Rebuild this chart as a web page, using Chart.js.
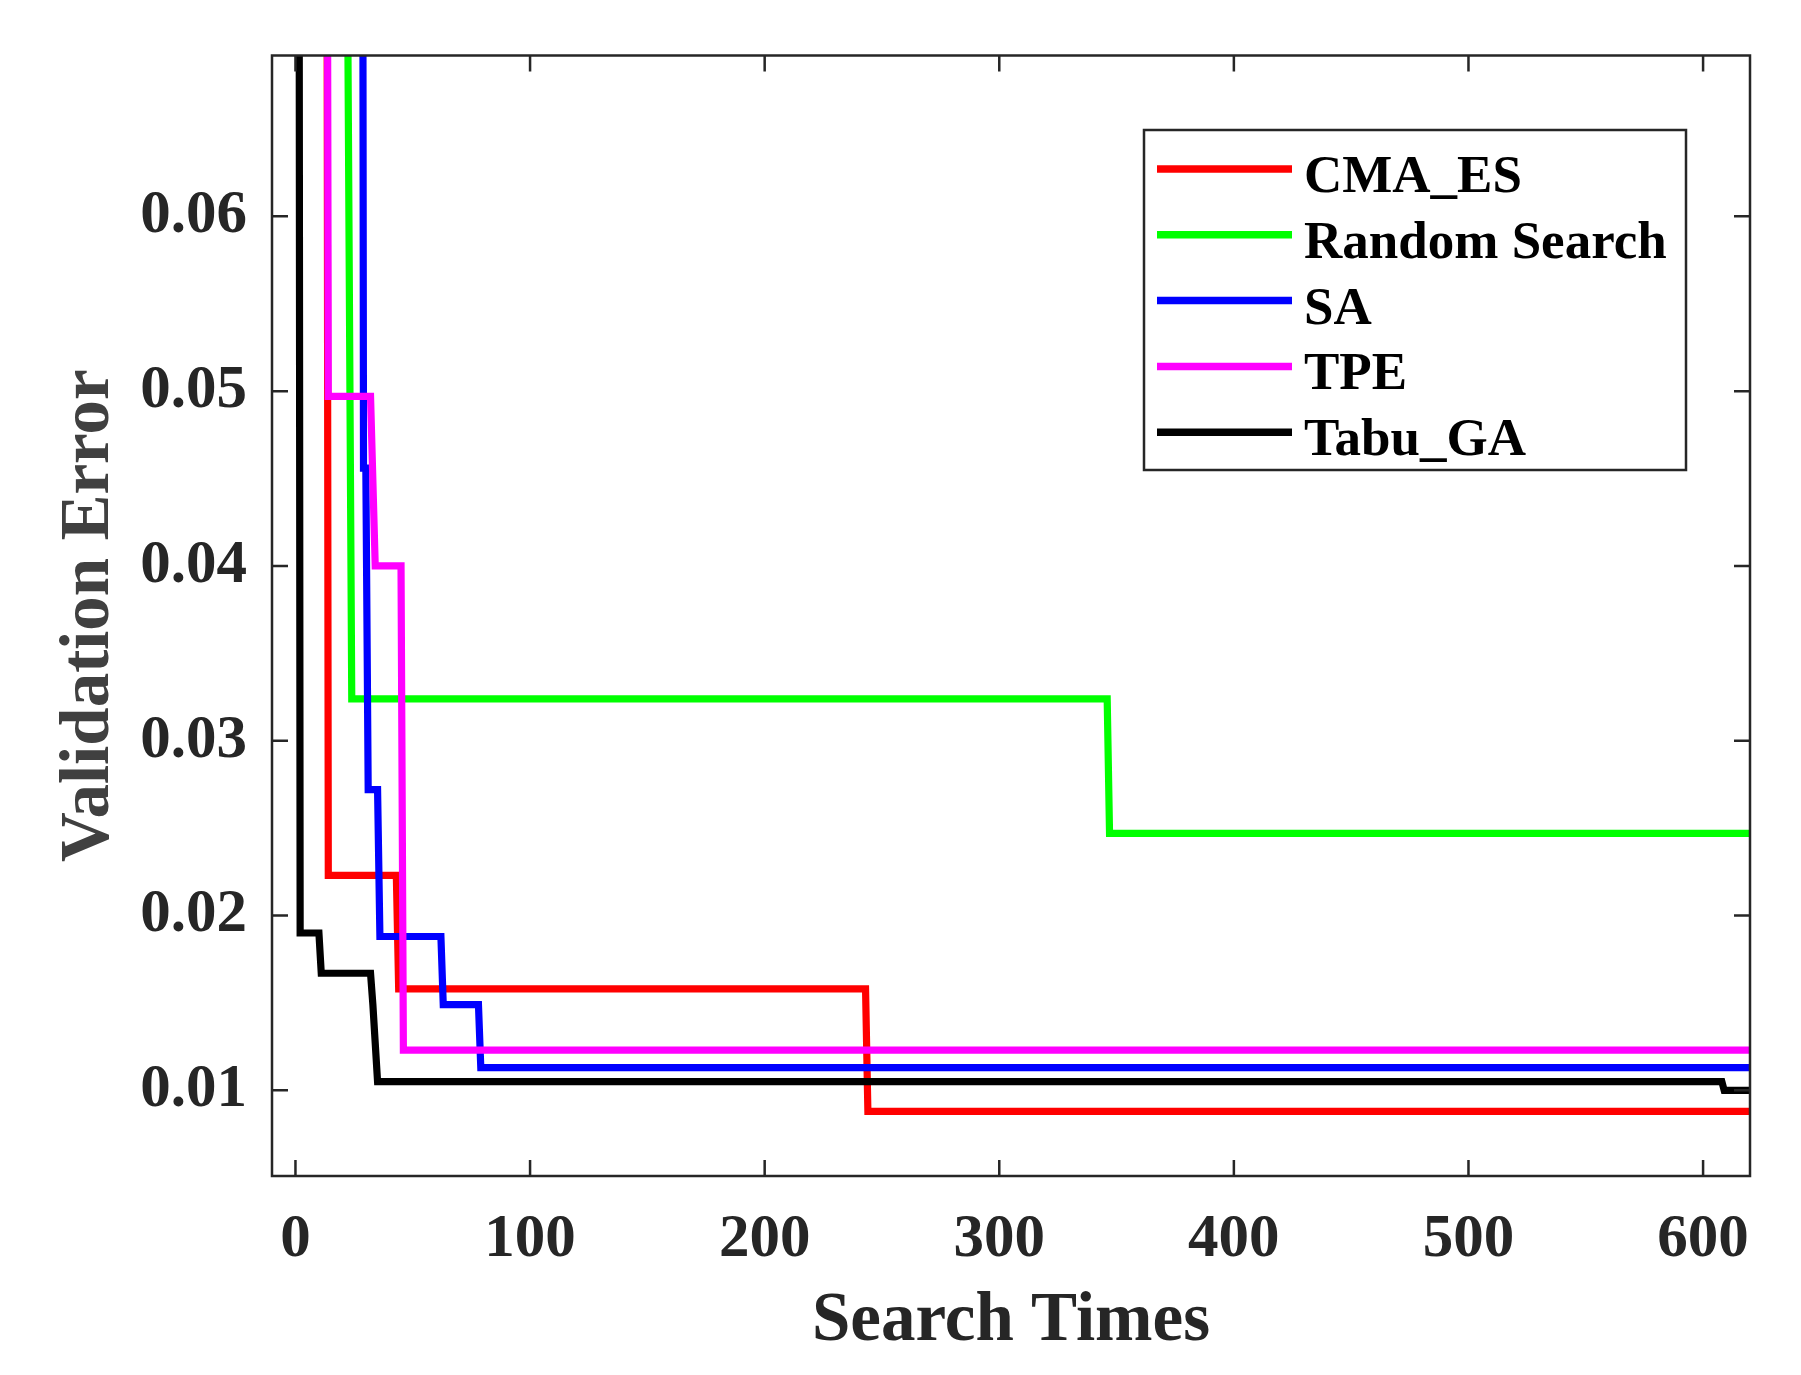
<!DOCTYPE html>
<html>
<head>
<meta charset="utf-8">
<script src="https://cdn.jsdelivr.net/npm/chart.js@4/dist/chart.umd.min.js"></script>
<style>
  html, body { margin: 0; padding: 0; background: #ffffff; }
  #wrap { width: 1801px; height: 1375px; }
</style>
</head>
<body>
<div id="wrap"><canvas id="c" width="1801" height="1375"></canvas></div>
<script>
// ---- data ----
const seriesNames = ['CMA_ES', 'Random Search', 'SA', 'TPE', 'Tabu_GA'];
const seriesColors = ['#ff0000', '#00ff00', '#0000ff', '#ff00ff', '#000000'];

const cmaIter = [1, 13, 14, 43, 44, 243, 244, 620];
const cmaErr  = [0.12, 0.12, 0.0223, 0.0223, 0.0158, 0.0158, 0.0088, 0.0088];

const rsIter = [1, 22, 24, 346, 347, 620];
const rsErr  = [0.078, 0.078, 0.0324, 0.0324, 0.0247, 0.0247];

const saIter = [1, 28, 29, 30, 31, 35, 36, 62, 63, 78, 79, 620];
const saErr  = [0.15, 0.15, 0.0456, 0.0456, 0.0272, 0.0272, 0.0188, 0.0188, 0.0149, 0.0149, 0.0113, 0.0113];

const tpeIter = [1, 13, 14, 32, 34, 45, 46, 620];
const tpeErr  = [0.12, 0.12, 0.0497, 0.0497, 0.0400, 0.0400, 0.0123, 0.0123];

const tabuIter = [1, 2, 10, 11, 32, 33, 35, 608, 609, 620];
const tabuErr  = [0.15, 0.019, 0.019, 0.0167, 0.0167, 0.0149, 0.0105, 0.0105, 0.0100, 0.0100];

const xTicks = [0, 100, 200, 300, 400, 500, 600];
const yTicks = [0.01, 0.02, 0.03, 0.04, 0.05, 0.06];
const xRange = [-10, 620];
const yRange = [0.0051, 0.0692];
const xTitle = 'Search Times';
const yTitle = 'Validation Error';

// ---- build ----
const iters = [cmaIter, rsIter, saIter, tpeIter, tabuIter];
const errs  = [cmaErr, rsErr, saErr, tpeErr, tabuErr];

const datasets = seriesNames.map((name, i) => ({
  label: name,
  data: iters[i].map((x, k) => ({ x: x, y: errs[i][k] })),
  borderColor: seriesColors[i],
  backgroundColor: seriesColors[i],
  borderWidth: 7.2,
  pointRadius: 0,
  pointHoverRadius: 0,
  tension: 0,
  fill: false,
  clip: 0,
  borderJoinStyle: 'miter',
  borderCapStyle: 'butt',
  order: seriesNames.length - i
}));

const AXIS_COLOR = '#262626';
const FONT = '"Liberation Serif", "Times New Roman", serif';

const boxPlugin = {
  id: 'matlabBox',
  afterDatasetsDraw(chart) {
    const ctx = chart.ctx;
    const a = chart.chartArea;
    const xs = chart.scales.x, ys = chart.scales.y;
    const tl = 16;
    ctx.save();
    ctx.strokeStyle = AXIS_COLOR;
    ctx.lineWidth = 2.5;
    ctx.beginPath();
    xTicks.forEach(v => {
      const px = xs.getPixelForValue(v);
      ctx.moveTo(px, a.bottom); ctx.lineTo(px, a.bottom - tl);
      ctx.moveTo(px, a.top); ctx.lineTo(px, a.top + tl);
    });
    yTicks.forEach(v => {
      const py = ys.getPixelForValue(v);
      ctx.moveTo(a.left, py); ctx.lineTo(a.left + tl, py);
      ctx.moveTo(a.right, py); ctx.lineTo(a.right - tl, py);
    });
    ctx.stroke();
    ctx.strokeRect(a.left, a.top, a.right - a.left, a.bottom - a.top);
    ctx.restore();
  }
};

const legendPlugin = {
  id: 'boxLegend',
  afterDraw(chart) {
    const ctx = chart.ctx;
    const bx = 1144, by = 130, bw = 542, bh = 340;
    ctx.save();
    ctx.fillStyle = '#ffffff';
    ctx.fillRect(bx, by, bw, bh);
    ctx.strokeStyle = AXIS_COLOR;
    ctx.lineWidth = 2.5;
    ctx.strokeRect(bx, by, bw, bh);
    ctx.font = 'bold 53px ' + FONT;
    ctx.textAlign = 'left';
    ctx.textBaseline = 'alphabetic';
    chart.data.datasets.forEach((ds, i) => {
      const ry = 169 + i * 65.8;
      ctx.strokeStyle = ds.borderColor;
      ctx.lineWidth = 7.5;
      ctx.beginPath();
      ctx.moveTo(1157, ry);
      ctx.lineTo(1292, ry);
      ctx.stroke();
      ctx.fillStyle = '#000000';
      ctx.fillText(ds.label, 1304, ry + 23);
    });
    ctx.restore();
  }
};

new Chart(document.getElementById('c'), {
  type: 'line',
  data: { datasets: datasets },
  options: {
    responsive: false,
    animation: false,
    devicePixelRatio: 1,
    layout: { padding: { top: 47, right: 51, left: 0, bottom: 0 } },
    plugins: { legend: { display: false }, tooltip: { enabled: false }, title: { display: false } },
    events: [],
    scales: {
      x: {
        type: 'linear',
        min: xRange[0],
        max: xRange[1],
        afterFit(scale) { scale.height = 199; },
        grid: { display: false, drawTicks: false },
        border: { display: false },
        ticks: {
          stepSize: 100,
          includeBounds: false,
          padding: 34,
          color: AXIS_COLOR,
          font: { family: FONT, size: 61, weight: 'bold', lineHeight: 1 },
          maxRotation: 0,
          autoSkip: false,
          callback: (v) => String(v)
        },
        title: {
          display: true,
          text: xTitle,
          color: AXIS_COLOR,
          font: { family: FONT, size: 69, weight: 'bold', lineHeight: 1 },
          padding: { top: 0, bottom: 18 }
        }
      },
      y: {
        type: 'linear',
        min: yRange[0],
        max: yRange[1],
        afterFit(scale) { scale.width = 272; },
        grid: { display: false, drawTicks: false },
        border: { display: false },
        ticks: {
          stepSize: 0.01,
          includeBounds: false,
          padding: 25,
          labelOffset: 0,
          color: AXIS_COLOR,
          font: { family: FONT, size: 61, weight: 'bold', lineHeight: 1 },
          autoSkip: false,
          callback: (v) => v.toFixed(2)
        },
        title: {
          display: true,
          text: yTitle,
          color: '#404040',
          font: { family: FONT, size: 69, weight: 'bold', lineHeight: 1 },
          padding: { top: 56, bottom: 0 }
        }
      }
    }
  },
  plugins: [boxPlugin, legendPlugin]
});
</script>
</body>
</html>
